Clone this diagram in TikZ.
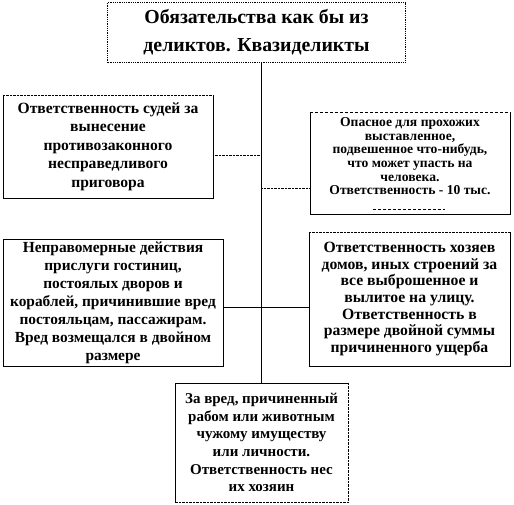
\documentclass[tikz,border=0pt]{standalone}
\usepackage{fontspec}
\setmainfont{Liberation Serif}

\begin{document}
\begin{tikzpicture}[x=1pt,y=-1pt,
  box/.style={align=center,inner sep=0pt,font=\bfseries\fontsize{15.6}{18.5}\selectfont}]
\useasboundingbox (0,0) rectangle (514,505);

% Heading
\node[box,minimum width=297,minimum height=59,font=\bfseries\fontsize{19.8}{28}\selectfont] (head) at (256.5,32.5)
  {Обязательства как бы из\\деликтов. Квазиделикты};
\draw[thick,densely dotted] (head.north west) rectangle (head.south east);

% Left column
\node[box,minimum width=210,minimum height=103] (judge) at (108,146.5)
  {Ответственность судей за\\вынесение\\противозаконного\\несправедливого\\приговора};
\draw (judge.north west) -- (judge.south west) -- (judge.south east) -- (judge.north east);
\draw[densely dotted] (judge.north west) -- (judge.north east);

\node[box,minimum width=220,minimum height=127,font=\bfseries\fontsize{15.4}{18}\selectfont] (inn) at (113,302.5)
  {Неправомерные действия\\прислуги гостиниц,\\постоялых дворов и\\кораблей, причинившие вред\\постояльцам, пассажирам.\\Вред возмещался в двойном\\размере};
\draw (inn.north west) rectangle (inn.south east);

% Right column
\node[box,minimum width=200,minimum height=102,font=\bfseries\fontsize{13.6}{13.6}\selectfont] (hang) at (410,163)
  {Опасное для прохожих\\выставленное,\\подвешенное что-нибудь,\\что может упасть на\\человека.\\Ответственность - 10 тыс.\\\mbox{}};
\draw (hang.north west) -- (hang.south west) -- (hang.south east) -- (hang.north east);
\draw[densely dashed] (hang.north west) -- (hang.north east);
\draw[dash pattern=on 3pt off 2pt] (373,209) -- (445,209);

\node[box,minimum width=201,minimum height=134,font=\bfseries\fontsize{15.7}{16.7}\selectfont] (house) at (409.5,299)
  {Ответственность хозяев\\домов, иных строений за\\все выброшенное и\\вылитое на улицу.\\Ответственность в\\размере двойной суммы\\причиненного ущерба};
\draw (house.north west) -- (house.south west) -- (house.south east) -- (house.north east);
\draw[densely dotted] (house.north west) -- (house.north east);

% Bottom
\node[box,minimum width=173,minimum height=119,font=\bfseries\fontsize{15}{17.7}\selectfont] (slave) at (261.5,442.5)
  {За вред, причиненный\\рабом или животным\\чужому имуществу\\или личности.\\Ответственность нес\\их хозяин};
\draw (slave.south west) -- (slave.north west) -- (slave.north east);
\draw[densely dotted] (slave.north east) -- (slave.south east) -- (slave.south west);

% Connectors
\coordinate (trunk) at (261,0);
\draw (trunk |- head.south) -- (trunk |- slave.north);
\draw[densely dotted] (judge.east |- 0,155) -- (trunk |- 0,155);
\draw[densely dotted] (trunk |- 0,188) -- (hang.west |- 0,188);
\draw (inn.east |- 0,307) -- (house.west |- 0,307);
\end{tikzpicture}
\end{document}
